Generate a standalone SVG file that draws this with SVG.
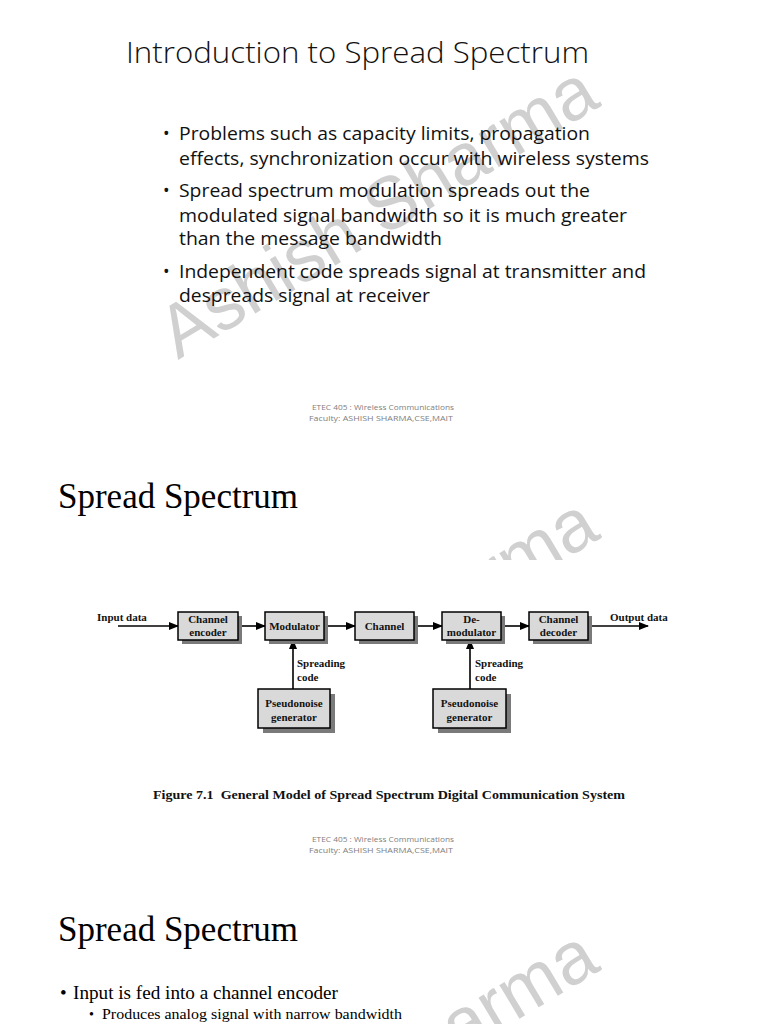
<svg xmlns="http://www.w3.org/2000/svg" width="768" height="1024" viewBox="0 0 768 1024">
<style>
.wm{font-family:"Liberation Sans",Arial,sans-serif;font-size:74px;fill:#d0d0d0}
.t1{font-family:"Open Sans","Liberation Sans",sans-serif;font-weight:300;font-size:29px;fill:#111}
.b1{font-family:"Open Sans","Liberation Sans",sans-serif;font-size:17.5px;fill:#111}
.ft{font-family:"Open Sans","Liberation Sans",sans-serif;font-size:7.6px;fill:#808080}
.ts{font-family:"Liberation Serif","Times New Roman",serif;font-size:35px;fill:#000}
.bx{fill:#d9d9d9;stroke:#000;stroke-width:1.5}
.sh{fill:#7a7a7a}
.lb{font-family:"Liberation Serif","Times New Roman",serif;font-weight:bold;font-size:11px;fill:#111}
.c{text-anchor:middle}
.cn{stroke:#000;stroke-width:1.6;fill:none}
.cap{font-family:"Liberation Serif","Times New Roman",serif;font-weight:bold;font-size:12.5px;fill:#111}
.s3{font-family:"Liberation Serif","Times New Roman",serif;fill:#000}
</style>
<defs>
<marker id="ah" markerUnits="userSpaceOnUse" markerWidth="10" markerHeight="8" refX="9" refY="4" orient="auto">
<path d="M0,0 L10,4 L0,8 z" fill="#000"/>
</marker>
</defs>
<rect width="768" height="1024" fill="#fff"/>

<!-- Slide 1 -->
<text class="wm" transform="translate(178,360) rotate(-31)" textLength="495" lengthAdjust="spacingAndGlyphs">Ashish Sharma</text>
<text class="t1" x="126" y="63" textLength="463" lengthAdjust="spacingAndGlyphs">Introduction to Spread Spectrum</text>
<g class="b1">
<text x="163" y="140">•</text>
<text x="179" y="140" textLength="411" lengthAdjust="spacingAndGlyphs">Problems such as capacity limits, propagation</text>
<text x="179" y="165" textLength="470" lengthAdjust="spacingAndGlyphs">effects, synchronization occur with wireless systems</text>
<text x="163" y="197">•</text>
<text x="179" y="197" textLength="411" lengthAdjust="spacingAndGlyphs">Spread spectrum modulation spreads out the</text>
<text x="179" y="222" textLength="448" lengthAdjust="spacingAndGlyphs">modulated signal bandwidth so it is much greater</text>
<text x="179" y="245" textLength="263" lengthAdjust="spacingAndGlyphs">than the message bandwidth</text>
<text x="163" y="278">•</text>
<text x="179" y="278" textLength="467" lengthAdjust="spacingAndGlyphs">Independent code spreads signal at transmitter and</text>
<text x="179" y="302" textLength="251" lengthAdjust="spacingAndGlyphs">despreads signal at receiver</text>
</g>
<text class="ft" x="312" y="410" textLength="142" lengthAdjust="spacingAndGlyphs">ETEC 405 : Wireless Communications</text>
<text class="ft" x="309" y="421" textLength="144" lengthAdjust="spacingAndGlyphs">Faculty: ASHISH SHARMA,CSE,MAIT</text>

<!-- Slide 2 -->
<text class="wm" transform="translate(178,792) rotate(-31)" textLength="495" lengthAdjust="spacingAndGlyphs">Ashish Sharma</text>
<rect x="0" y="560" width="768" height="254" fill="#fff"/>
<text class="ts" x="58" y="508" textLength="240" lengthAdjust="spacingAndGlyphs">Spread Spectrum</text>

<g id="connectors">
<line class="cn" x1="118" y1="626" x2="178" y2="626" marker-end="url(#ah)"/>
<line class="cn" x1="238" y1="626" x2="265" y2="626" marker-end="url(#ah)"/>
<line class="cn" x1="324" y1="626" x2="355" y2="626" marker-end="url(#ah)"/>
<line class="cn" x1="414" y1="626" x2="442" y2="626" marker-end="url(#ah)"/>
<line class="cn" x1="501" y1="626" x2="529" y2="626" marker-end="url(#ah)"/>
<line class="cn" x1="588" y1="626" x2="648" y2="626" marker-end="url(#ah)"/>
<line class="cn" x1="293" y1="689" x2="293" y2="640" marker-end="url(#ah)"/>
<line class="cn" x1="470" y1="689" x2="470" y2="640" marker-end="url(#ah)"/>
<text class="lb" x="97" y="621">Input data</text>
<text class="lb" x="610" y="621">Output data</text>
<text class="lb" x="297" y="667">Spreading</text>
<text class="lb" x="297" y="681">code</text>
<text class="lb" x="475" y="667">Spreading</text>
<text class="lb" x="475" y="681">code</text>
</g>

<g id="enc">
<rect class="sh" x="182" y="616" width="60" height="28"/>
<rect class="bx" x="178" y="612" width="60" height="28"/>
<text class="lb c" x="208" y="623">Channel</text>
<text class="lb c" x="208" y="636">encoder</text>
</g>
<g id="mod">
<rect class="sh" x="269" y="616" width="59" height="28"/>
<rect class="bx" x="265" y="612" width="59" height="28"/>
<text class="lb c" x="294.5" y="630">Modulator</text>
</g>
<g id="chan">
<rect class="sh" x="359" y="616" width="59" height="28"/>
<rect class="bx" x="355" y="612" width="59" height="28"/>
<text class="lb c" x="384.5" y="630">Channel</text>
</g>
<g id="demod">
<rect class="sh" x="446" y="616" width="59" height="28"/>
<rect class="bx" x="442" y="612" width="59" height="28"/>
<text class="lb c" x="471.5" y="623">De-</text>
<text class="lb c" x="471.5" y="636">modulator</text>
</g>
<g id="dec">
<rect class="sh" x="533" y="616" width="59" height="28"/>
<rect class="bx" x="529" y="612" width="59" height="28"/>
<text class="lb c" x="558.5" y="623">Channel</text>
<text class="lb c" x="558.5" y="636">decoder</text>
</g>
<g id="pn1">
<rect class="sh" x="263" y="694" width="72" height="39"/>
<rect class="bx" x="258" y="689" width="72" height="39"/>
<text class="lb c" x="294" y="707">Pseudonoise</text>
<text class="lb c" x="294" y="721">generator</text>
</g>
<g id="pn2">
<rect class="sh" x="438" y="694" width="73" height="39"/>
<rect class="bx" x="433" y="689" width="73" height="39"/>
<text class="lb c" x="469.5" y="707">Pseudonoise</text>
<text class="lb c" x="469.5" y="721">generator</text>
</g>

<text class="cap" x="153" y="799" textLength="472" lengthAdjust="spacingAndGlyphs" xml:space="preserve">Figure 7.1  General Model of Spread Spectrum Digital Communication System</text>
<text class="ft" x="312" y="842" textLength="142" lengthAdjust="spacingAndGlyphs">ETEC 405 : Wireless Communications</text>
<text class="ft" x="309" y="853" textLength="144" lengthAdjust="spacingAndGlyphs">Faculty: ASHISH SHARMA,CSE,MAIT</text>

<!-- Slide 3 -->
<text class="wm" transform="translate(178,1224) rotate(-31)" textLength="495" lengthAdjust="spacingAndGlyphs">Ashish Sharma</text>
<text class="ts" x="58" y="941" textLength="240" lengthAdjust="spacingAndGlyphs">Spread Spectrum</text>
<text class="s3" x="60" y="999" font-size="19">•</text>
<text class="s3" x="73" y="999" font-size="19" textLength="265" lengthAdjust="spacingAndGlyphs">Input is fed into a channel encoder</text>
<text class="s3" x="89" y="1019" font-size="14">•</text>
<text class="s3" x="102" y="1019" font-size="15" textLength="300" lengthAdjust="spacingAndGlyphs">Produces analog signal with narrow bandwidth</text>
</svg>
